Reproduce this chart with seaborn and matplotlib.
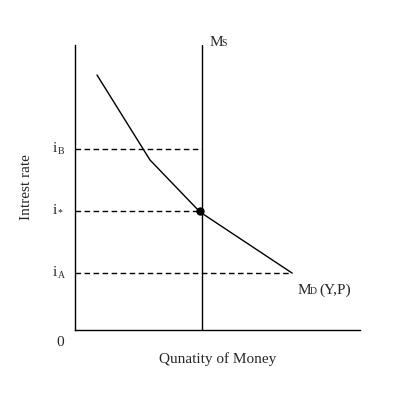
import matplotlib
matplotlib.use("Agg")
import matplotlib.pyplot as plt
import seaborn as sns
import pandas as pd

md_x = [22, 75, 125, 217]
md_y = [255, 170, 118, 57]
ms_x = 127
levels = {"B": 181, "*": 119, "A": 57}
level_ends = {"B": 127, "*": 125, "A": 217}

sns.set_style("white")
plt.rcParams['font.family'] = ['Liberation Serif', 'DejaVu Serif']
fig = plt.figure(figsize=(4, 4), dpi=100)
ax = fig.add_axes([0.1875, 0.175, 0.7125, 0.7125])
df = pd.DataFrame({"x": md_x, "y": md_y})
sns.lineplot(data=df, x="x", y="y", ax=ax, color="black", lw=1, sort=False)
ax.axvline(ms_x, color="black", lw=1)
for k, v in levels.items():
    ax.plot([0, level_ends[k]], [v, v], ls="--", color="black", lw=1, dashes=(4, 2.5))
    ax.text(-22, v, "i", ha="left", va="center", fontsize=11)
    ax.text(-17, v - 2, k, ha="left", va="center", fontsize=7)
ax.plot([125], [119], "o", color="black", ms=5)
ax.set_xlim(0, 285)
ax.set_ylim(0, 285)
ax.set_xticks([]); ax.set_yticks([])
for s in ["top", "right"]:
    ax.spines[s].set_visible(False)
for s in ["left", "bottom"]:
    ax.spines[s].set_color("black"); ax.spines[s].set_linewidth(1)
ax.set_xlabel("Qunatity of Money", fontsize=11, labelpad=16)
ax.set_ylabel("Intrest rate", fontsize=11, labelpad=30)
ax.text(-15, -12, "0", ha="center", va="center", fontsize=11)
ax.text(135, 288, "M", ha="left", va="center", fontsize=11, clip_on=False)
ax.text(146.5, 287, "S", ha="left", va="center", fontsize=7, clip_on=False)
ax.text(223, 40, "M", ha="left", va="center", fontsize=11)
ax.text(234.5, 39, "D", ha="left", va="center", fontsize=7)
ax.text(244, 40, "(Y,P)", ha="left", va="center", fontsize=11)
fig.savefig("out.png", dpi=100)
